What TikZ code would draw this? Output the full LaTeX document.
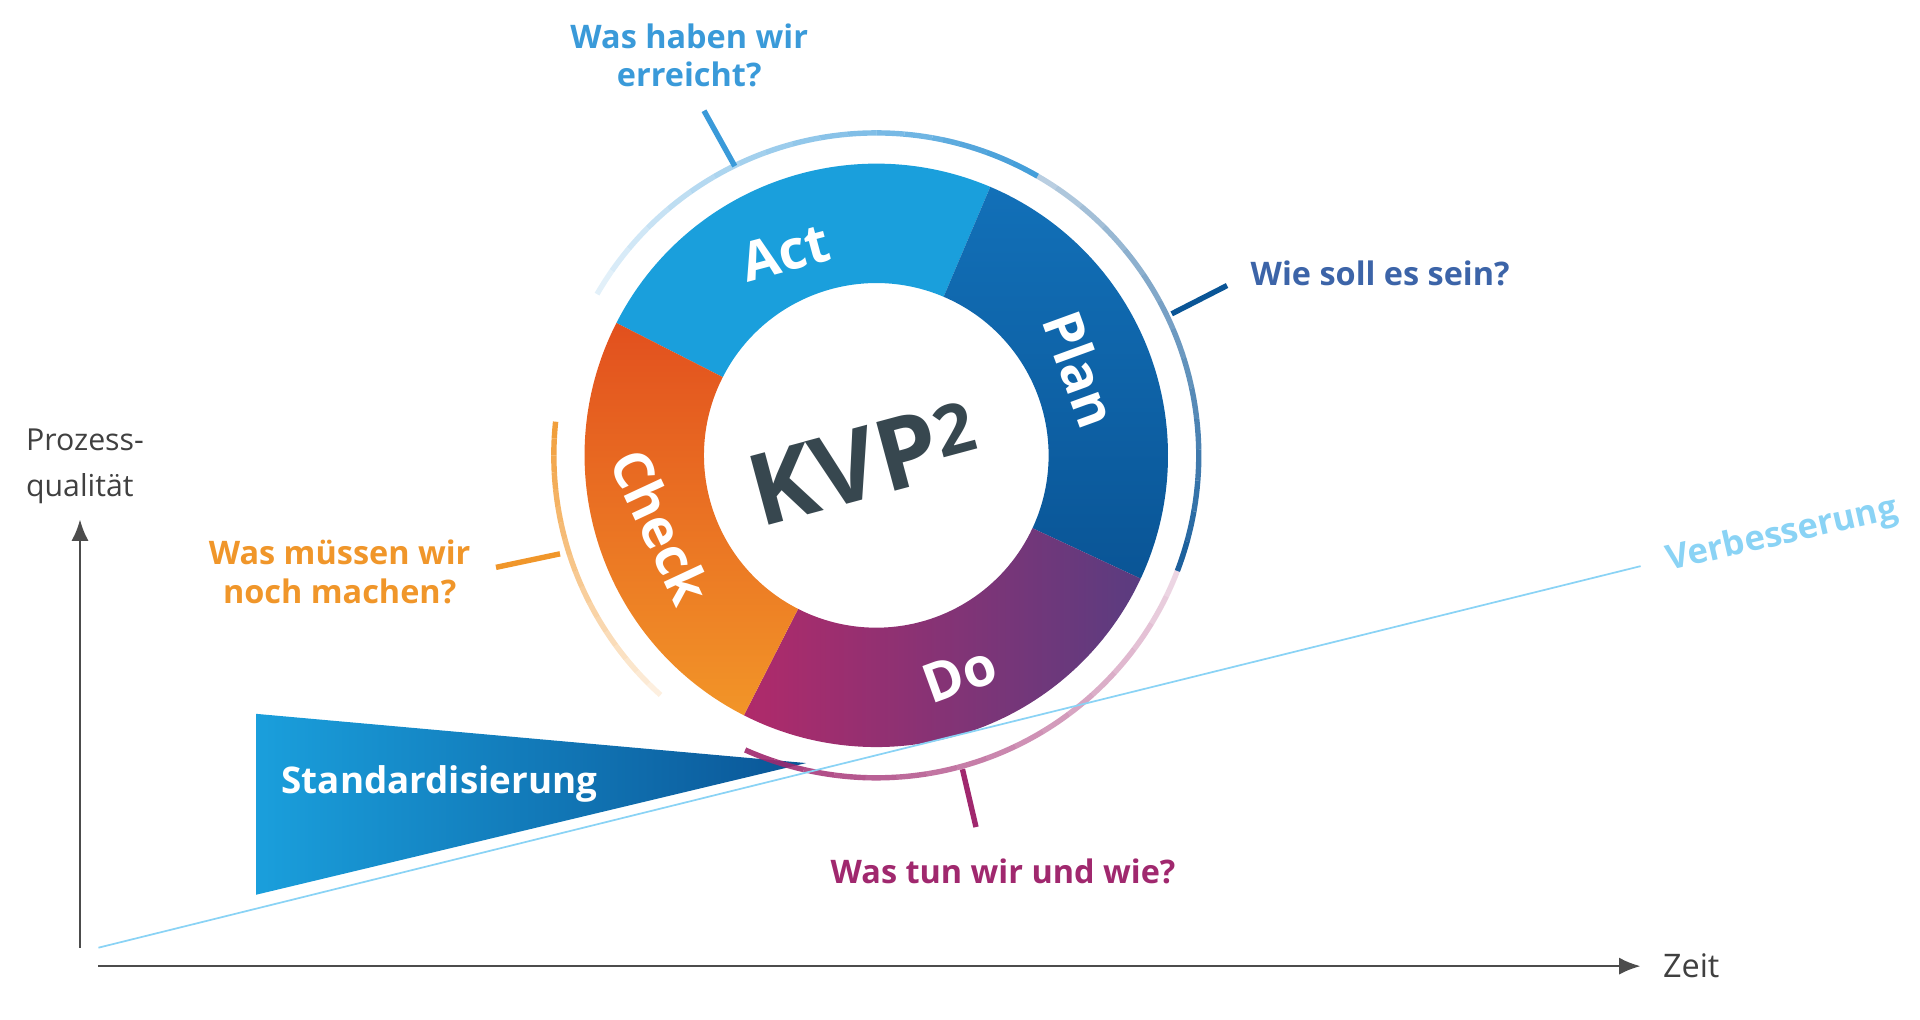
\documentclass[tikz,border=0pt]{standalone}
\usepackage{fontspec}
\setmainfont{Open Sans}
\usetikzlibrary{arrows.meta}
\begin{document}
\begin{tikzpicture}[x=0.02cm,y=0.02cm,
  q/.style={font=\fontsize{15}{18}\selectfont\bfseries,align=center},
  seg/.style={font=\fontsize{25}{27}\selectfont\bfseries,text=white},
  ax/.style={draw=black!70,line width=1.2pt,-{Latex[length=10pt,width=8pt]}},
  tick/.style={line width=2.5pt}]
\useasboundingbox (0,0) rectangle (1560,828);
\definecolor{actc}{HTML}{1A9FDC}
\definecolor{planc}{HTML}{1270B8}
\definecolor{planc2}{HTML}{0A5596}
\definecolor{doc1}{HTML}{B02A6A}
\definecolor{doc2}{HTML}{5A3C80}
\definecolor{chk1}{HTML}{E2501E}
\definecolor{chk2}{HTML}{F29528}
\definecolor{qact}{HTML}{3A9AD9}
\definecolor{qplan}{HTML}{3C64A8}
\definecolor{qchk}{HTML}{F0962A}
\definecolor{qdo}{HTML}{A0286E}
\definecolor{verb}{HTML}{8AD3F5}
\definecolor{kvp}{HTML}{37474F}
% axes
\coordinate (yo) at (65,58); \coordinate (yt) at (65,406);
\coordinate (xo) at (80,43); \coordinate (xt) at (1333,43);
\draw[ax] (yo) -- (yt);
\draw[ax] (xo) -- (xt);
\node[anchor=west,font=\fontsize{14}{21}\selectfont,text=black!75,align=left] (pq) at (15,449) {Prozess-\\qualität};
\node[anchor=west,font=\fontsize{15}{18}\selectfont,text=black!75] (zeit) at (1345,43) {Zeit};
% wedge
\shade[left color=actc,right color=planc2] (208,248) -- (208,101) -- (655,208) -- cycle;
\node[font=\fontsize{17}{20}\selectfont\bfseries,text=white] (std) at (357,191) {Standardisierung};
% ring
\begin{scope}[shift={(712,458)}]
 \fill[actc] (67:237) arc[start angle=67,end angle=153,radius=237] -- (153:140) arc[start angle=153,end angle=67,radius=140] -- cycle;
 \shade[top color=planc,bottom color=planc2] (-25:237) arc[start angle=-25,end angle=67,radius=237] -- (67:140) arc[start angle=67,end angle=-25,radius=140] -- cycle;
 \shade[left color=doc1,right color=doc2] (-117:237) arc[start angle=-117,end angle=-25,radius=237] -- (-25:140) arc[start angle=-25,end angle=-117,radius=140] -- cycle;
 \shade[top color=chk1,bottom color=chk2] (153:237) arc[start angle=153,end angle=243,radius=237] -- (243:140) arc[start angle=243,end angle=153,radius=140] -- cycle;
 % outer arcs
 \foreach \a in {0,...,17}{
   \draw[qact,line width=2.5pt,opacity={0.15+0.045*\a}] ({150-5*\a}:262) arc[start angle={150-5*\a},end angle={145-5*\a},radius=262];
   \draw[planc2,line width=2.5pt,opacity={0.15+0.045*\a}] ({78-5.5*\a}:262) arc[start angle={78-5.5*\a},end angle={72.5-5.5*\a},radius=262];
   \draw[qchk,line width=2.5pt,opacity={0.15+0.045*\a}] ({228-3*\a}:262) arc[start angle={228-3*\a},end angle={225-3*\a},radius=262];
   \draw[qdo,line width=2.5pt,opacity={0.15+0.045*\a}] ({-15-5.5*\a}:262) arc[start angle={-15-5.5*\a},end angle={-20.5-5.5*\a},radius=262];
 }
\end{scope}
\node[seg,rotate=15] (actl) at (638,623) {Act};
\node[seg,rotate=-70] (planl) at (878,528) {Plan};
\node[seg,rotate=20] (dol) at (780,280) {Do};
\node[seg,rotate=-65] (chkl) at (537,400) {Check};
\node[font=\fontsize{46}{48}\selectfont\bfseries,text=kvp,rotate=15] (kvpl) at (702,452) {KVP\textsuperscript{2}};
% ticks
\coordinate (t1a) at (572,738); \coordinate (t1b) at (597,693);
\coordinate (t2a) at (997,596); \coordinate (t2b) at (952,573);
\coordinate (t3a) at (403,367); \coordinate (t3b) at (455,378);
\coordinate (t4a) at (782,203); \coordinate (t4b) at (793,156);
\draw[tick,qact] (t1a) -- (t1b);
\draw[tick,planc2] (t2a) -- (t2b);
\draw[tick,qchk] (t3a) -- (t3b);
\draw[tick,qdo] (t4a) -- (t4b);
% questions
\node[q,text=qact] (q1) at (560,783) {Was haben wir\\erreicht?};
\node[q,text=qplan,anchor=west] (q2) at (1010,606) {Wie soll es sein?};
\node[q,text=qchk] (q3) at (276,363) {Was müssen wir\\noch machen?};
\node[q,text=qdo] (q4) at (815,120) {Was tun wir und wie?};
% Verbesserung
\coordinate (va) at (80,58); \coordinate (vb) at (1333,368);
\draw[verb,line width=0.8pt] (va) -- (vb);
\node[font=\fontsize{16}{18}\selectfont\bfseries,text=verb,rotate=13] (verbl) at (1448,393) {Verbesserung};
\end{tikzpicture}
\end{document}
